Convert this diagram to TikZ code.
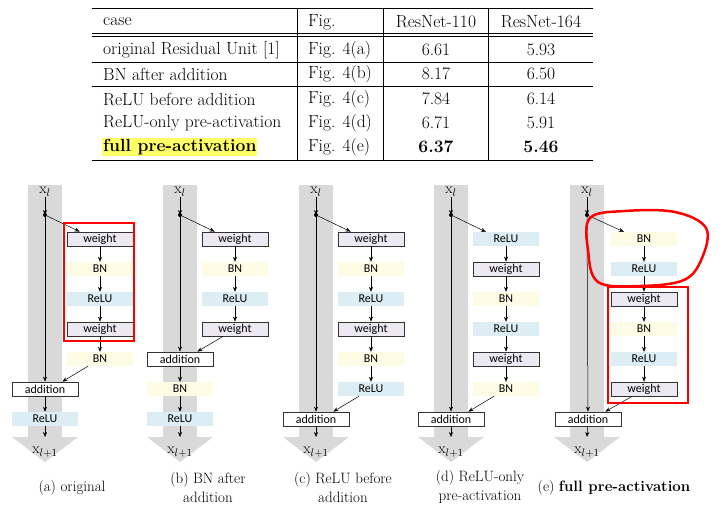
\documentclass[tikz,border=0pt]{standalone}
\usepackage{fontspec}
\newfontfamily\boxfont{Carlito}
\usetikzlibrary{arrows.meta}
\definecolor{wtc}{HTML}{ECE9F2}
\definecolor{bnc}{HTML}{FFFCE6}
\definecolor{rlc}{HTML}{DCEDF3}
\definecolor{barc}{HTML}{D9D9D9}
\definecolor{hl}{HTML}{FFFF66}
\tikzset{
 blk/.style={minimum width=66pt,minimum height=14pt,inner sep=0pt,font=\boxfont\fontsize{12}{12}\selectfont},
 wt/.style={blk,fill=wtc,draw=black!80,line width=0.8pt},
 bn/.style={blk,fill=bnc},
 rl/.style={blk,fill=rlc},
 ad/.style={blk,fill=white,draw=black!80,line width=0.8pt},
 arr/.style={-{Stealth[length=5pt,width=4pt]},line width=0.5pt},
 tt/.style={font=\fontsize{17.5}{20}\selectfont,inner sep=0pt},
 captxt/.style={font=\fontsize{15}{19}\selectfont,align=center,inner sep=0pt},
 redbox/.style={draw=red,line width=1.3pt}
}
\newcommand\colbase[2]{%
 \fill[barc] (#2-17,185) rectangle (#2+17,437);
 \fill[barc] (#2-33,437) -- (#2+33,437) -- (#2,462) -- cycle;
 \node[font=\fontsize{15}{15}\selectfont,inner sep=0pt] (#1x) at (#2,192) {$\mathrm{x}_l$};
 \fill (#2,215) circle (2pt);
 \coordinate (#1d) at (#2,215);
 \coordinate (#1o) at (#2,437);
 \node[font=\fontsize{15}{15}\selectfont,inner sep=0pt] (#1y) at (#2,452) {$\mathrm{x}_{l+1}$};
 \draw[arr] (#1x) -- (#1d);
}
\begin{document}
\begin{tikzpicture}[x=1pt,y=-1pt]
\useasboundingbox (0,0) rectangle (727,519);
% table
\draw[line width=0.5pt] (92,8) -- (593,8);
\draw[line width=0.5pt] (92,33) -- (593,33);
\draw[line width=0.5pt] (92,36) -- (593,36);
\draw[line width=0.5pt] (92,62) -- (593,62);
\draw[line width=0.5pt] (92,86) -- (593,86);
\draw[line width=0.5pt] (92,160) -- (593,160);
\foreach \xx in {297,383,488}{\draw[line width=0.5pt] (\xx,8) -- (\xx,160);}
\node[tt,anchor=west] (h1) at (103,22) {case};
\node[tt,anchor=west] (h2) at (308,22) {Fig.};
\node[tt] (h3) at (436,22) {ResNet-110};
\node[tt] (h4) at (541,22) {ResNet-164};
\node[tt,anchor=west] (r1) at (103,50) {original Residual Unit [1]};
\node[tt,anchor=west] (r2) at (103,74) {BN after addition};
\node[tt,anchor=west] (r3) at (103,99) {ReLU before addition};
\node[tt,anchor=west] (r4) at (103,123) {ReLU-only pre-activation};
\node[tt,anchor=west,fill=hl,inner sep=1pt] (r5) at (102,147) {\textbf{full pre-activation}};
\foreach \i/\f/\a/\b/\yy in {1/a/6.61/5.93/50,2/b/8.17/6.50/74,3/c/7.84/6.14/99,4/d/6.71/5.91/123}{
 \node[tt,anchor=west] (f\i) at (308,\yy) {Fig. 4(\f)};
 \node[tt] (p\i) at (436,\yy) {\a};
 \node[tt] (q\i) at (541,\yy) {\b};}
\node[tt,anchor=west] (f5) at (308,147) {Fig. 4(e)};
\node[tt] (p5) at (436,147) {\textbf{6.37}};
\node[tt] (q5) at (541,147) {\textbf{5.46}};
% (a)
\colbase{a}{45}
\node[wt] (a1) at (100,239) {weight};
\node[bn] (a2) at (100,269) {BN};
\node[rl] (a3) at (100,299) {ReLU};
\node[wt] (a4) at (100,329) {weight};
\node[bn] (a5) at (100,359) {BN};
\node[ad] (aA) at (45,389) {addition};
\node[rl] (aR) at (45,419) {ReLU};
\draw[arr] (ad) -- ([xshift=13pt]a1.north west);
\draw[arr] (a1)--(a2); \draw[arr] (a2)--(a3); \draw[arr] (a3)--(a4); \draw[arr] (a4)--(a5);
\draw[arr] ([xshift=-12pt]a5.south) -- ([xshift=-16pt]aA.north east);
\draw[arr] (ad) -- (aA); \draw[arr] (aA)--(aR); \draw[arr] (aR)--(ao);
\draw[redbox] (64,223) rectangle (134,341);
% (b)
\colbase{b}{180}
\node[wt] (b1) at (235,239) {weight};
\node[bn] (b2) at (235,269) {BN};
\node[rl] (b3) at (235,299) {ReLU};
\node[wt] (b4) at (235,329) {weight};
\node[ad] (bA) at (180,359) {addition};
\node[bn] (bB) at (180,389) {BN};
\node[rl] (bR) at (180,419) {ReLU};
\draw[arr] (bd) -- ([xshift=13pt]b1.north west);
\draw[arr] (b1)--(b2); \draw[arr] (b2)--(b3); \draw[arr] (b3)--(b4);
\draw[arr] ([xshift=-12pt]b4.south) -- ([xshift=-16pt]bA.north east);
\draw[arr] (bd) -- (bA); \draw[arr] (bA)--(bB); \draw[arr] (bB)--(bR); \draw[arr] (bR)--(bo);
% (c)
\colbase{c}{316}
\node[wt] (c1) at (371,239) {weight};
\node[bn] (c2) at (371,269) {BN};
\node[rl] (c3) at (371,299) {ReLU};
\node[wt] (c4) at (371,329) {weight};
\node[bn] (c5) at (371,359) {BN};
\node[rl] (c6) at (371,389) {ReLU};
\node[ad] (cA) at (316,419) {addition};
\draw[arr] (cd) -- ([xshift=13pt]c1.north west);
\draw[arr] (c1)--(c2); \draw[arr] (c2)--(c3); \draw[arr] (c3)--(c4); \draw[arr] (c4)--(c5); \draw[arr] (c5)--(c6);
\draw[arr] ([xshift=-12pt]c6.south) -- ([xshift=-16pt]cA.north east);
\draw[arr] (cd) -- (cA); \draw[arr] (cA)--(co);
% (d)
\colbase{d}{451}
\node[rl] (d1) at (506,239) {ReLU};
\node[wt] (d2) at (506,269) {weight};
\node[bn] (d3) at (506,299) {BN};
\node[rl] (d4) at (506,329) {ReLU};
\node[wt] (d5) at (506,359) {weight};
\node[bn] (d6) at (506,389) {BN};
\node[ad] (dA) at (451,419) {addition};
\draw[arr] (dd) -- ([xshift=13pt]d1.north west);
\draw[arr] (d1)--(d2); \draw[arr] (d2)--(d3); \draw[arr] (d3)--(d4); \draw[arr] (d4)--(d5); \draw[arr] (d5)--(d6);
\draw[arr] ([xshift=-12pt]d6.south) -- ([xshift=-16pt]dA.north east);
\draw[arr] (dd) -- (dA); \draw[arr] (dA)--(do);
% (e)
\colbase{e}{587}
\node[bn] (e1) at (644,239) {BN};
\node[rl] (e2) at (644,269) {ReLU};
\node[wt] (e3) at (644,299) {weight};
\node[bn] (e4) at (644,329) {BN};
\node[rl] (e5) at (644,359) {ReLU};
\node[wt] (e6) at (644,389) {weight};
\node[ad] (eA) at (588,419) {addition};
\draw[arr] (ed) -- ([xshift=13pt]e1.north west);
\draw[arr] (e1)--(e2); \draw[arr] (e2)--(e3); \draw[arr] (e3)--(e4); \draw[arr] (e4)--(e5); \draw[arr] (e5)--(e6);
\draw[arr] ([xshift=-12pt]e6.south) -- ([xshift=-16pt]eA.north east);
\draw[arr] (ed) -- (eA); \draw[arr] (eA)--(eo);
\draw[redbox] (608,287) rectangle (688,403);
\draw[red,line width=2.5pt] plot[smooth cycle,tension=0.6] coordinates {(590,218) (625,211) (675,212) (706,228) (702,258) (684,280) (640,286) (598,282) (588,250)};
% captions
\node[captxt] (ca) at (72,488) {(a) original};
\node[captxt] (cb) at (208,487) {(b) BN after\\addition};
\node[captxt] (cc) at (343,487) {(c) ReLU before\\addition};
\node[captxt] (cd2) at (480,487) {(d) ReLU-only\\pre-activation};
\node[captxt] (ce) at (614,488) {(e) \textbf{full pre-activation}};
\end{tikzpicture}
\end{document}
